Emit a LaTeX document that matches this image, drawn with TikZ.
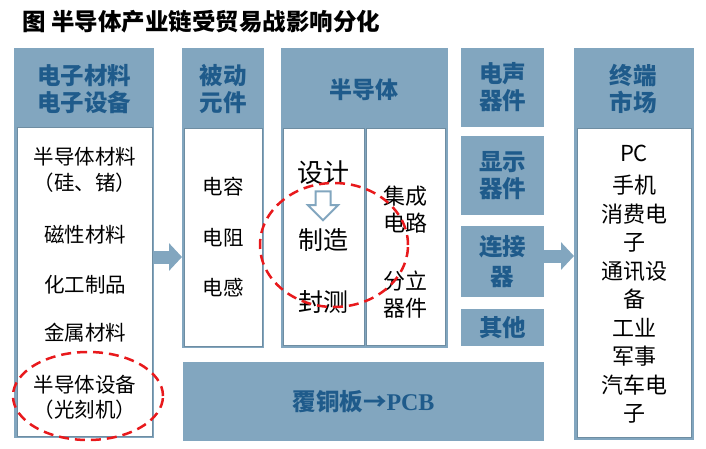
\documentclass[tikz,border=0pt]{standalone}
\usepackage{fontspec}
\setmainfont{Noto Sans CJK SC}
\newfontfamily\pcbfont{Liberation Serif}
\usetikzlibrary{shapes.arrows, arrows.meta}

\definecolor{barblue}{HTML}{82A6BF}
\definecolor{headblue}{HTML}{1F5B8B}
\definecolor{ringred}{HTML}{E8191C}

\tikzset{
  panel/.style={fill=barblue, anchor=north west, inner sep=0pt, outer sep=0pt},
  inbox/.style={fill=white, draw=barblue!85!black, line width=0.6pt, anchor=north west, inner sep=0pt},
  head/.style={text=headblue, font=\bfseries\fontsize{23.5}{27}\selectfont, align=center},
  item/.style={text=black, font=\fontsize{20.5}{26}\selectfont, align=center},
  ring/.style={draw=ringred, line width=2.5pt, dash pattern=on 10pt off 6pt},
  fatarrow/.style={draw=barblue, line width=13pt, -{Triangle[length=13pt,width=27pt]}}
}

\begin{document}
\begin{tikzpicture}[x=1pt, y=-1pt]

        \useasboundingbox (0,0) rectangle (706,449);

        % Title
        \node[anchor=west, font=\bfseries\fontsize{23.5}{26}\selectfont] (title) at (19,22) {图 半导体产业链受贸易战影响分化};

        % Electronic materials and equipment
        \node[panel, minimum width=140pt, minimum height=390pt] (elec) at (14,48) {};
        \node[inbox, minimum width=135pt, minimum height=309pt] (elecbox) at (17,127) {};
        \node[head] (elechead) at (84,89) {电子材料\\电子设备};
        \node[item] (semimat) at (85,170) {半导体材料\\（硅、锗）};
        \node[item] (magmat) at (85,235) {磁性材料};
        \node[item] (chem) at (85,285) {化工制品};
        \node[item] (metal) at (85,333) {金属材料};
        \node[item, font=\fontsize{20.5}{25}\selectfont] (semiequip) at (85,397) {半导体设备\\（光刻机）};

        % Passive components
        \node[panel, minimum width=82pt, minimum height=300pt] (passive) at (182,48) {};
        \node[inbox, minimum width=78pt, minimum height=218pt] (passivebox) at (184,128) {};
        \node[head] (passivehead) at (223,89) {被动\\元件};
        \node[item] (cap) at (223,187) {电容};
        \node[item] (res) at (223,238) {电阻};
        \node[item] (ind) at (223,288) {电感};

        % Semiconductor
        \node[panel, minimum width=167pt, minimum height=300pt] (semi) at (281,48) {};
        \node[inbox, minimum width=81pt, minimum height=217pt] (flowbox) at (283,128) {};
        \node[inbox, minimum width=79pt, minimum height=217pt] (kindbox) at (366,128) {};
        \node[head, font=\bfseries\fontsize{23}{27}\selectfont] (semihead) at (364,90) {半导体};
        \node[item, font=\fontsize{26}{30}\selectfont] (design) at (323,173) {设计};
        \node[single arrow, draw=barblue, line width=2pt, fill=white, shape border rotate=270,
              minimum height=29pt, minimum width=28pt, inner sep=6.5pt,
              single arrow head extend=7.5pt] (flowarrow) at (323,202) {};
        \node[item, font=\fontsize{25}{30}\selectfont] (fab) at (323,240) {制造};
        \node[item, font=\fontsize{25}{30}\selectfont] (pack) at (323,302) {封测};
        \node[item, font=\fontsize{22}{27}\selectfont] (ic) at (405,210) {集成\\电路};
        \node[item, font=\fontsize{22}{27}\selectfont] (discrete) at (405,295) {分立\\器件};

        % Other components
        \node[panel, minimum width=83pt, minimum height=79pt, head] (acoustic) at (461,48) {电声\\器件};
        \node[panel, minimum width=83pt, minimum height=79pt, head] (display) at (461,136) {显示\\器件};
        \node[panel, minimum width=83pt, minimum height=71pt, head, font=\bfseries\fontsize{23.5}{30}\selectfont] (conn) at (461,226) {连接\\器};
        \node[panel, minimum width=83pt, minimum height=37pt, head] (other) at (461,309) {其他};

        % Copper clad laminate
        \node[panel, minimum width=361pt, minimum height=79pt, head] (pcb) at (183,362) {覆铜板→{\pcbfont\fontsize{24}{27}\selectfont PCB}};

        % End markets
        \node[panel, minimum width=120pt, minimum height=392pt] (term) at (574,48) {};
        \node[inbox, minimum width=114pt, minimum height=309pt] (termbox) at (577,128) {};
        \node[head] (termhead) at (633,89) {终端\\市场};
        \node[item, font=\fontsize{22}{28.5}\selectfont] (markets) at (634,284)
             {PC\\[4pt]手机\\消费电\\子\\通讯设\\备\\工业\\军事\\汽车电\\子};

        % Flow arrows
        \draw[fatarrow] (elec.east |- 0,257) -- (passive.west |- 0,257);
        \draw[fatarrow] (conn.east |- 0,256) -- (term.west |- 0,256);

        % Highlight rings
        \draw[ring] (88,396) ellipse [x radius=75pt, y radius=44pt];
        \draw[ring] (334,245) ellipse [x radius=74pt, y radius=62pt];

\end{tikzpicture}
\end{document}
